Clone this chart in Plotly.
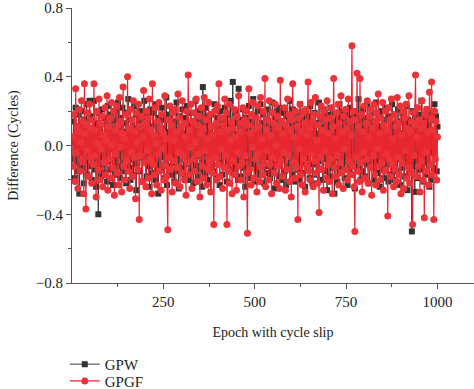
import plotly.graph_objects as go

epochs = list(range(2, 1001, 2))

gpw = [
-0.08, 0.14, 0.02, -0.19, 0.22, -0.1, 0.06, -0.15, 0.18, -0.28,
0.11, -0.04, 0.2, -0.13, 0.07, -0.22, 0.15, 0.03, -0.09, 0.24,
-0.17, 0.09, -0.02, 0.26, -0.12, 0.05, -0.2, 0.17, -0.06, 0.26,
-0.14, 0.1, -0.24, 0.13, -0.03, -0.4, 0.19, -0.07, 0.08, -0.18,
0.21, -0.11, 0.04, -0.16, 0.16, -0.05, 0.12, -0.21, 0.23, -0.09,
0.07, -0.14, 0.18, -0.02, 0.1, -0.23, 0.14, -0.08, 0.2, -0.17,
0.05, -0.12, 0.25, -0.06, 0.11, -0.19, 0.16, -0.03, 0.22, -0.15,
0.08, -0.1, 0.13, -0.22, 0.19, -0.05, 0.27, -0.13, 0.06, -0.2,
0.15, -0.08, 0.1, -0.17, 0.23, -0.11, 0.04, -0.26, 0.18, -0.02,
0.12, -0.15, 0.2, -0.07, 0.09, -0.21, 0.14, -0.1, 0.26, -0.04,
0.07, -0.18, 0.17, -0.12, 0.03, -0.24, 0.21, -0.06, 0.11, -0.16,
0.19, -0.09, 0.06, -0.2, 0.24, -0.03, 0.13, -0.28, 0.16, -0.11,
0.02, -0.14, 0.22, -0.07, 0.1, -0.19, 0.15, -0.05, 0.28, -0.23,
0.08, -0.12, 0.18, -0.02, 0.12, -0.17, 0.2, -0.1, 0.05, -0.21,
0.14, -0.06, 0.25, -0.15, 0.09, -0.25, 0.17, -0.08, 0.11, -0.13,
0.21, -0.04, 0.07, -0.18, 0.16, -0.11, 0.23, -0.07, 0.12, -0.2,
0.04, -0.15, 0.19, -0.09, 0.14, -0.22, 0.1, -0.03, 0.26, -0.12,
0.08, -0.18, 0.15, -0.06, 0.2, -0.14, 0.11, -0.24, 0.34, -0.1,
0.06, -0.16, 0.22, -0.04, 0.13, -0.2, 0.17, -0.08, 0.09, -0.27,
0.18, -0.11, 0.05, -0.15, 0.24, -0.07, 0.12, -0.19, 0.16, -0.02,
0.1, -0.23, 0.2, -0.1, 0.07, -0.17, 0.14, -0.05, 0.22, -0.13,
0.03, -0.21, 0.18, -0.08, 0.11, -0.14, 0.26, -0.06, 0.09, 0.37,
-0.16, 0.13, -0.03, 0.19, -0.12, 0.06, -0.2, 0.33, -0.09, 0.15,
-0.18, 0.08, -0.05, 0.21, -0.13, 0.12, -0.24, 0.16, -0.07, 0.1,
-0.15, 0.23, -0.02, 0.14, -0.19, 0.07, -0.11, 0.27, -0.08, 0.17,
-0.21, 0.05, -0.14, 0.2, -0.06, 0.11, -0.17, 0.24, -0.1, 0.13,
-0.04, 0.18, -0.22, 0.09, -0.12, 0.15, -0.07, 0.21, -0.16, 0.03,
-0.19, 0.12, -0.09, 0.25, -0.13, 0.08, -0.25, 0.16, -0.05, 0.2,
-0.11, 0.06, -0.18, 0.22, -0.03, 0.14, -0.2, 0.1, -0.08, 0.19,
-0.15, 0.07, -0.23, 0.17, -0.06, 0.12, -0.12, 0.26, -0.1, 0.04,
-0.17, 0.21, -0.05, 0.13, -0.21, 0.09, -0.14, 0.18, -0.08, 0.11,
-0.2, 0.24, -0.03, 0.15, -0.16, 0.06, -0.1, 0.2, -0.24, 0.12,
-0.07, 0.17, -0.13, 0.08, -0.19, 0.23, -0.04, 0.14, -0.22, 0.1,
-0.11, 0.19, -0.06, 0.13, -0.17, 0.07, -0.09, 0.25, -0.14, 0.16,
-0.02, 0.11, -0.2, 0.21, -0.08, 0.15, -0.15, 0.09, -0.26, 0.18,
-0.05, 0.13, -0.18, 0.22, -0.1, 0.06, -0.13, 0.19, -0.28, 0.14,
-0.07, 0.1, -0.21, 0.17, -0.04, 0.24, -0.16, 0.08, -0.12, 0.2,
-0.09, 0.15, -0.19, 0.12, -0.06, 0.18, -0.23, 0.07, -0.14, 0.22,
-0.03, 0.16, -0.17, 0.11, -0.1, 0.2, -0.25, 0.13, -0.08, 0.17,
-0.12, 0.27, -0.05, 0.09, -0.2, 0.14, -0.15, 0.21, -0.07, 0.1,
-0.18, 0.16, -0.11, 0.23, -0.04, 0.12, -0.22, 0.08, -0.13, 0.19,
-0.06, 0.14, -0.2, 0.1, -0.09, 0.25, -0.16, 0.07, -0.12, 0.18,
-0.24, 0.11, -0.05, 0.2, -0.14, 0.09, -0.19, 0.15, -0.08, 0.22,
-0.11, 0.06, -0.21, 0.17, -0.03, 0.13, -0.17, 0.24, -0.1, 0.12,
-0.2, 0.18, -0.06, 0.1, -0.15, 0.21, -0.08, 0.14, -0.23, 0.07,
-0.13, 0.19, -0.04, 0.16, -0.18, 0.11, -0.1, 0.23, -0.26, 0.15,
-0.07, 0.12, -0.16, 0.08, -0.5, 0.2, -0.12, 0.14, -0.27, 0.17,
-0.09, 0.22, -0.19, 0.1, -0.05, 0.18, -0.14, 0.26, -0.11, 0.13,
-0.21, 0.08, -0.07, 0.16, -0.17, 0.21, -0.1, 0.12, -0.24, 0.19,
-0.04, 0.15, -0.2, 0.09, -0.13, 0.24, -0.08, 0.17, -0.15, 0.11,
]

gpgf = [
0.05, -0.12, 0.18, -0.21, 0.33, -0.04, 0.11, -0.25, 0.08, 0.21,
-0.15, 0.02, 0.26, -0.09, 0.14, -0.28, 0.36, 0.07, -0.37, 0.12,
-0.03, 0.19, -0.18, 0.24, -0.07, 0.1, -0.22, 0.15, -0.11, 0.36,
-0.06, 0.09, -0.3, 0.2, 0.01, -0.14, 0.27, -0.2, 0.13, -0.02,
0.17, -0.24, 0.06, -0.1, 0.22, -0.17, 0.03, 0.29, -0.26, 0.11,
-0.08, 0.16, -0.19, 0.25, 0.0, -0.13, 0.2, -0.29, 0.09, -0.05,
0.23, -0.16, 0.12, -0.23, 0.28, -0.01, 0.14, -0.27, 0.07, 0.34,
-0.12, 0.04, -0.2, 0.18, -0.09, 0.4, -0.15, 0.1, -0.25, 0.21,
-0.04, 0.15, -0.18, 0.26, -0.07, 0.08, -0.31, 0.19, 0.02, -0.14,
0.24, -0.43, 0.11, -0.06, 0.17, -0.21, 0.05, 0.32, -0.1, 0.13,
-0.24, 0.2, -0.03, 0.16, -0.19, 0.27, -0.08, 0.09, -0.28, 0.36,
-0.11, 0.06, -0.17, 0.22, 0.01, -0.23, 0.14, -0.05, 0.25, -0.15,
0.1, -0.26, 0.18, -0.02, 0.07, -0.2, 0.29, -0.12, 0.04, -0.18,
-0.49, 0.15, -0.07, 0.23, -0.14, 0.12, -0.27, 0.19, 0.03, -0.09,
0.21, -0.22, 0.08, -0.13, 0.3, -0.04, 0.16, -0.24, 0.11, -0.16,
0.26, -0.06, 0.13, -0.2, 0.05, -0.29, 0.2, -0.1, 0.41, -0.17,
0.09, -0.01, 0.24, -0.25, 0.14, -0.08, 0.19, -0.15, 0.02, 0.27,
-0.21, 0.12, -0.05, 0.17, -0.3, 0.07, 0.22, -0.12, 0.1, -0.19,
0.28, -0.03, 0.15, -0.23, 0.04, -0.14, 0.25, -0.09, 0.18, -0.27,
0.11, -0.16, 0.06, -0.46, 0.2, -0.07, 0.13, -0.2, 0.23, -0.11,
0.36, -0.18, 0.08, -0.02, 0.16, -0.25, 0.12, -0.13, 0.27, -0.06,
0.19, -0.46, 0.09, -0.15, 0.24, -0.22, 0.03, 0.14, -0.28, 0.1,
-0.09, 0.21, -0.17, 0.05, -0.26, 0.17, -0.04, 0.29, -0.12, 0.08,
-0.2, 0.13, -0.1, 0.22, -0.3, 0.15, -0.06, 0.2, -0.16, -0.51,
0.12, 0.33, -0.14, 0.07, -0.23, 0.18, -0.01, 0.25, -0.19, 0.1,
-0.08, 0.16, -0.27, 0.23, -0.05, 0.11, -0.21, 0.28, -0.13, 0.04,
-0.17, 0.2, -0.1, 0.39, -0.24, 0.09, -0.03, 0.15, -0.2, 0.26,
-0.11, 0.06, -0.28, 0.19, -0.07, 0.13, -0.16, 0.24, 0.0, -0.22,
0.17, -0.12, 0.1, -0.25, 0.38, -0.09, 0.14, -0.18, 0.07, -0.04,
0.22, -0.26, 0.12, -0.14, 0.27, -0.06, 0.18, -0.21, 0.09, -0.3,
0.15, 0.36, -0.1, 0.05, -0.19, 0.2, -0.13, 0.11, -0.43, 0.16,
-0.02, 0.24, -0.17, 0.08, -0.23, 0.19, -0.08, 0.13, -0.27, 0.21,
-0.12, 0.06, 0.37, -0.15, 0.1, -0.2, 0.25, -0.05, 0.14, -0.24,
0.18, -0.09, 0.28, -0.16, 0.03, -0.22, 0.12, -0.39, 0.17, -0.07,
0.23, -0.14, 0.09, -0.26, 0.2, -0.03, 0.15, -0.19, 0.26, -0.11,
0.07, -0.21, 0.16, -0.08, 0.22, -0.28, 0.11, 0.39, -0.13, 0.04,
-0.18, 0.19, -0.06, 0.24, -0.23, 0.13, -0.1, 0.29, -0.16, 0.08,
-0.25, 0.17, -0.02, 0.21, -0.14, 0.1, -0.2, 0.27, -0.09, 0.14,
-0.17, 0.06, 0.58, -0.12, 0.2, -0.24, -0.5, 0.15, -0.07, 0.42,
-0.15, 0.11, -0.21, 0.39, -0.1, 0.18, -0.27, 0.08, -0.04, 0.23,
-0.19, 0.13, -0.08, 0.26, -0.22, 0.05, 0.17, -0.13, 0.21, -0.29,
0.1, -0.06, 0.24, -0.17, 0.14, -0.23, 0.19, -0.02, 0.3, -0.12,
0.07, -0.2, 0.16, -0.1, 0.25, -0.26, 0.12, -0.15, 0.2, -0.05,
0.09, -0.41, 0.22, -0.08, 0.15, -0.18, 0.27, -0.11, 0.04, -0.24,
0.18, -0.14, 0.11, -0.21, 0.28, -0.07, 0.13, -0.17, 0.23, -0.28,
0.06, -0.1, 0.2, -0.25, 0.16, -0.03, 0.24, -0.19, 0.1, -0.13,
0.29, -0.22, 0.08, -0.16, 0.14, -0.46, 0.19, -0.06, 0.12, 0.41,
-0.18, 0.05, 0.22, -0.12, 0.15, -0.27, 0.1, -0.09, 0.26, -0.2,
0.13, -0.42, 0.18, -0.04, 0.21, -0.15, 0.08, -0.23, 0.31, -0.11,
0.16, 0.37, -0.17, 0.09, -0.43, 0.2, -0.08, 0.14, -0.2, 0.05,
]

y_ticks = [-0.8, -0.4, 0.0, 0.4, 0.8]
y_ticktext = ["\u22120.8", "\u22120.4", "0.0", "0.4", "0.8"]
x_ticks = [250, 500, 750, 1000]

FONT = "Liberation Serif"

fig = go.Figure()
fig.add_trace(go.Scatter(
    x=epochs, y=gpw, name="GPW", mode="lines+markers", legend="legend",
    line=dict(color="#3a3a3a", width=1),
    marker=dict(symbol="square", size=6, color="#333333"),
))
fig.add_trace(go.Scatter(
    x=epochs, y=gpgf, name="GPGF", mode="lines+markers", legend="legend2",
    line=dict(color="#e8262f", width=1.2),
    marker=dict(symbol="circle", size=7, color="#ea3339"),
))

leg_common = dict(xanchor="left", yanchor="top", orientation="v",
                  font=dict(family=FONT, size=15, color="#222222"),
                  bgcolor="rgba(0,0,0,0)")

fig.update_layout(
    width=474, height=389,
    margin=dict(l=72, r=0, t=8, b=106, autoexpand=False),
    paper_bgcolor="white", plot_bgcolor="white",
    font=dict(family=FONT, size=15, color="#222222"),
    showlegend=True,
    legend=dict(x=-0.018, y=-0.236, **leg_common),
    legend2=dict(x=-0.018, y=-0.297, **leg_common),
)
fig.update_xaxes(
    range=[0, 1100], tickvals=x_ticks, showline=True, linecolor="#555555", linewidth=1,
    ticks="outside", ticklen=5, tickcolor="#555555", showgrid=False, zeroline=False,
    automargin=False,
    minor=dict(tickvals=[125, 375, 625, 875], ticks="outside", ticklen=3, tickcolor="#555555"),
    tickfont=dict(family=FONT, size=15),
    title=dict(text="Epoch with cycle slip", font=dict(family=FONT, size=14), standoff=18),
)
fig.update_yaxes(
    range=[-0.8, 0.8], tickvals=y_ticks, ticktext=y_ticktext, showline=True,
    linecolor="#555555", linewidth=1, ticks="outside", ticklen=5, tickcolor="#555555",
    showgrid=False, zeroline=False, automargin=False,
    minor=dict(tickvals=[-0.6, -0.2, 0.2, 0.6], ticks="outside", ticklen=3, tickcolor="#555555"),
    tickfont=dict(family=FONT, size=15),
    title=dict(text="Difference (Cycles)", font=dict(family=FONT, size=14), standoff=13),
)

fig.write_html("out.html", config={"displayModeBar": False},
               post_script="document.body.style.margin='0';document.body.style.overflow='hidden';")
